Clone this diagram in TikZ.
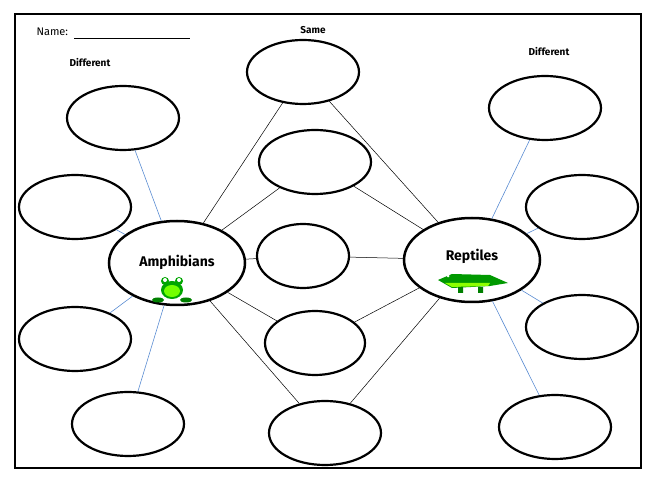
\documentclass[tikz,border=0pt]{standalone}
\usepackage{fontspec}
\setmainfont{Fira Sans}
\usetikzlibrary{shapes.geometric}
\begin{document}
\begin{tikzpicture}[x=1pt,y=-1pt,
  ov/.style={ellipse,draw,line width=2.2pt,inner sep=0pt},
  sm/.style={ov,minimum width=112pt,minimum height=64pt},
  big/.style={ov,line width=2.5pt,minimum width=136pt,minimum height=84pt},
  bl/.style={draw={rgb,255:red,90;green,140;blue,210},line width=0.6pt},
  bk/.style={draw=black,line width=0.5pt},
  lab/.style={font=\fontsize{10}{12}\selectfont\bfseries}]
\useasboundingbox (0,0) rectangle (646,478);
\draw[line width=2pt] (15,14) rectangle (641,468);
\node[anchor=west,font=\fontsize{11}{13}\selectfont] (name) at (33,32) {Name:};
\draw[line width=0.5pt] (74,38) -- (190,38);
\node[lab] (same) at (313,30) {Same};
\node[lab] (d1) at (90,63) {Different};
\node[lab] (d2) at (549,52) {Different};
\node[big] (A) at (177,263) {};
\node[font=\fontsize{14}{16}\selectfont\bfseries] (At) at (177,262) {Amphibians};
\node[big] (R) at (472,260) {};
\node[font=\fontsize{14}{16}\selectfont\bfseries] (Rt) at (472,256) {Reptiles};
\node[sm] (c1) at (303,72) {};
\node[sm] (c2) at (315,162) {};
\node[sm,minimum width=92pt] (c3) at (303,256) {};
\node[sm,minimum width=100pt] (c4) at (315,343) {};
\node[sm] (c5) at (325,433) {};
\node[sm] (l1) at (123,118) {};
\node[sm] (l2) at (75,207) {};
\node[sm] (l3) at (75,339) {};
\node[sm] (l4) at (128,424) {};
\node[sm] (r1) at (545,108) {};
\node[sm] (r2) at (582,207) {};
\node[sm] (r3) at (582,327) {};
\node[sm] (r4) at (555,427) {};
\foreach \c in {c1,c2,c3,c4,c5}{\draw[bk] (A) -- (\c); \draw[bk] (R) -- (\c);}
\foreach \c in {l1,l2,l3,l4}{\draw[bl] (A) -- (\c);}
\foreach \c in {r1,r2,r3,r4}{\draw[bl] (R) -- (\c);}
% frog
\fill[green!65!black] (172,290) ellipse (11 and 9);
\fill[green!55!yellow] (172,291) ellipse (8 and 6);
\fill[green!65!black] (165,281) circle (4) (179,281) circle (4);
\fill[white] (165,280) circle (2) (179,280) circle (2);
\fill[green!50!black] (158,300) ellipse (6 and 2.5) (186,300) ellipse (6 and 2.5);
% crocodile
\fill[green!60!black] (438,280) -- (452,274) -- (490,275) -- (508,283) -- (490,286) -- (452,288) -- cycle;
\fill[green!45!yellow] (445,283) -- (490,283) -- (488,286) -- (452,287) -- cycle;
\fill[green!50!black] (458,287) rectangle (463,293) (478,287) rectangle (483,293);
\fill[white] (448,276) circle (1.5);
\end{tikzpicture}
\end{document}
